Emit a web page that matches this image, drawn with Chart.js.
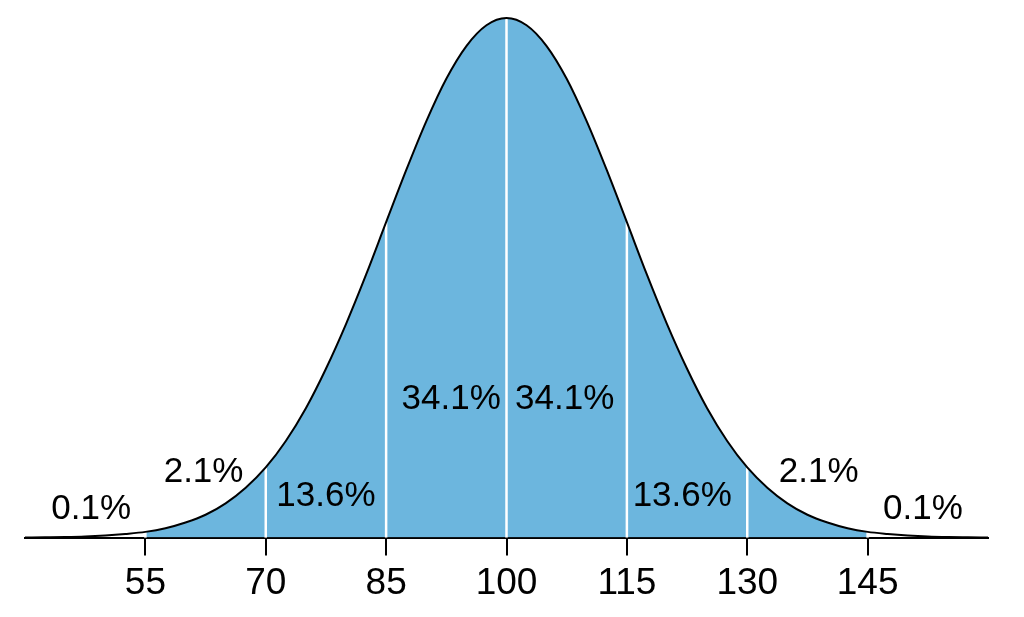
<!DOCTYPE html>
<html>
<head>
<meta charset="utf-8">
<script src="https://cdn.jsdelivr.net/npm/chart.js@4.4.1/dist/chart.umd.min.js"></script>
<style>
  html, body { margin: 0; padding: 0; background: #fff; }
  #wrap { width: 1024px; height: 617px; }
</style>
</head>
<body>
<div id="wrap"><canvas id="bell"></canvas></div>
<script>
// IQ scores (mean 100, sd 15), curve height in % of the peak
const scores = [40, 42.5, 45, 47.5, 50, 52.5, 55, 57.5, 60, 62.5, 65, 67.5, 70, 72.5, 75, 77.5,
  80, 82.5, 85, 87.5, 90, 92.5, 95, 97.5, 100, 102.5, 105, 107.5, 110, 112.5, 115, 117.5,
  120, 122.5, 125, 127.5, 130, 132.5, 135, 137.5, 140, 142.5, 145, 147.5, 150, 152.5, 155, 157.5, 160];
const heights = [0.03, 0.06, 0.1, 0.2, 0.4, 0.7, 1.1, 1.8, 2.9, 4.4, 6.6, 9.6, 13.5, 18.6, 24.9, 32.5,
  41.1, 50.6, 60.7, 70.7, 80.1, 88.3, 94.6, 98.6, 100, 98.6, 94.6, 88.3, 80.1, 70.7, 60.7, 50.6,
  41.1, 32.5, 24.9, 18.6, 13.5, 9.6, 6.6, 4.4, 2.9, 1.8, 1.1, 0.7, 0.4, 0.2, 0.1, 0.06, 0.03];
const tickValues = [55, 70, 85, 100, 115, 130, 145];
const shares = ['0.1%', '2.1%', '13.6%', '34.1%', '34.1%', '13.6%', '2.1%', '0.1%'];
const shareX = [48.25, 62.25, 77.5, 93.1, 107.25, 121.9, 138.9, 151.9];
const shareY = [5.4, 12.5, 7.9, 26.7, 26.7, 7.9, 12.5, 5.4];

const curve = scores.map((s, i) => ({ x: s, y: heights[i] }));
const shaded = curve.filter(p => p.x >= 55 && p.x <= 145);

const sdLines = tickValues.map(v => {
  const p = curve.find(c => c.x === v);
  return {
    data: [{ x: v, y: 0 }, { x: v, y: p.y }],
    borderColor: '#ffffff',
    borderWidth: 2.5,
    pointRadius: 0,
    fill: false,
    order: 1
  };
});

const shareLabels = {
  id: 'shareLabels',
  afterDatasetsDraw(chart) {
    const ctx = chart.ctx;
    const xs = chart.scales.x, ys = chart.scales.y;
    ctx.save();
    ctx.fillStyle = '#000';
    ctx.font = '35px "Liberation Sans", Arial, sans-serif';
    ctx.textAlign = 'center';
    ctx.textBaseline = 'middle';
    shares.forEach((t, i) => {
      ctx.fillText(t, xs.getPixelForValue(shareX[i]), ys.getPixelForValue(shareY[i]));
    });
    ctx.restore();
  }
};

new Chart(document.getElementById('bell'), {
  type: 'line',
  data: {
    datasets: [
      {
        data: shaded,
        borderWidth: 0,
        borderColor: 'rgba(0,0,0,0)',
        backgroundColor: '#6cb6de',
        fill: 'origin',
        pointRadius: 0,
        cubicInterpolationMode: 'monotone',
        order: 2
      },
      ...sdLines,
      {
        data: curve,
        borderColor: '#000',
        borderWidth: 2,
        pointRadius: 0,
        fill: false,
        cubicInterpolationMode: 'monotone',
        order: 0
      }
    ]
  },
  options: {
    responsive: true,
    maintainAspectRatio: false,
    animation: false,
    clip: false,
    layout: { padding: { left: 25, right: 36, top: 18, bottom: 5 } },
    plugins: {
      legend: { display: false },
      tooltip: { enabled: false },
      filler: { drawTime: 'beforeDatasetsDraw' }
    },
    scales: {
      x: {
        type: 'linear',
        min: 40,
        max: 160,
        afterBuildTicks: scale => { scale.ticks = tickValues.map(v => ({ value: v })); },
        border: { display: true, color: '#000', width: 2 },
        grid: { drawOnChartArea: false, drawTicks: true, tickLength: 18, color: '#000', lineWidth: 2 },
        ticks: {
          color: '#000',
          padding: 6,
          maxRotation: 0,
          autoSkip: false,
          font: { size: 37, family: '"Liberation Sans", Arial, sans-serif' }
        }
      },
      y: { display: false, min: 0, max: 100 }
    }
  },
  plugins: [shareLabels]
});
</script>
</body>
</html>
